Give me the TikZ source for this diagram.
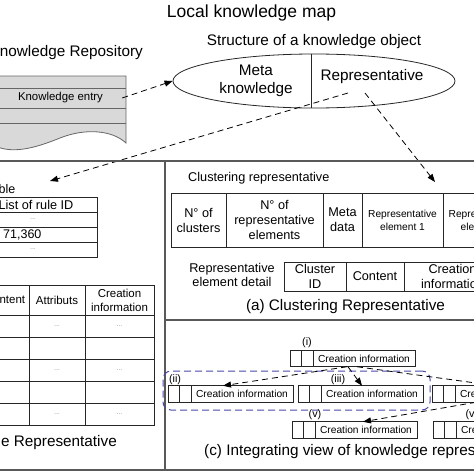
\documentclass[tikz,border=0pt]{standalone}
\usepackage{fontspec}
\setmainfont{Liberation Sans}
\usepackage{tikz}
\usetikzlibrary{positioning,arrows.meta,shapes.geometric}
\definecolor{groupblue}{RGB}{72,72,168}
\tikzset{cell/.style={draw=black!85,line width=1pt,inner sep=0pt,outer sep=0pt,align=center,font=\fontsize{12.7}{15}\selectfont}}
\tikzset{small/.style={cell,font=\fontsize{11.5}{14}\selectfont}}
\tikzset{tiny/.style={draw=black!85,line width=0.9pt,minimum width=11.5pt,minimum height=16.5pt,inner sep=0pt,outer sep=0pt}}
\tikzset{info/.style={draw=black!85,line width=0.9pt,minimum width=102pt,minimum height=16.5pt,inner sep=0pt,outer sep=0pt,font=\fontsize{10.2}{12}\selectfont}}
\tikzset{tag/.style={inner sep=0pt,font=\fontsize{10.8}{12}\selectfont}}
\tikzset{caption/.style={inner sep=0pt,align=center,font=\fontsize{15.3}{18}\selectfont}}
\tikzset{dots/.style={inner sep=0pt,text=black!40,font=\fontsize{7}{9}\selectfont}}
\tikzset{link/.style={dash pattern=on 6pt off 4pt,line width=0.8pt,-{Triangle[length=8pt,width=6pt]}}}
\tikzset{group/.style={draw=groupblue,dash pattern=on 7pt off 4pt,line width=1pt,rounded corners=8pt}}
\tikzset{frame/.style={draw=black!65,line width=1.2pt}}

\begin{document}
\begin{tikzpicture}[x=1pt,y=-1pt]
            \useasboundingbox (0,0) rectangle (474,474);
            \clip (0,0) rectangle (474,474);

            \node[caption,font=\fontsize{17.5}{20}\selectfont] (title) at (251.5,13) {Local knowledge map};

            \node[caption,anchor=east] (repo) at (143,53) {Knowledge Repository};
            \path[fill=black!15,draw=black!60,line width=0.8pt] (-5,76) -- (126,76) -- (126,143)
                .. controls (112,130) and (85,128) .. (60,138)
                .. controls (40,146) and (15,155) .. (-5,146) -- cycle;
            \draw[black!60,line width=0.8pt] (-5,88) -- (126,88) (-5,108) -- (126,108) (-5,123) -- (126,123);
            \node[inner sep=0pt,minimum width=131pt,font=\fontsize{11.4}{13}\selectfont] (entry) at (60.5,98) {Knowledge entry};

            \node[caption] (struct) at (314,42) {Structure of a knowledge object};
            \node[ellipse,draw=black!85,line width=0.8pt,minimum width=282pt,minimum height=54pt] (kobj) at (314,81) {};
            \draw[black!85,line width=0.8pt] ([xshift=-3pt]kobj.north) -- ([xshift=-3pt]kobj.south);
            \node[caption] (meta) at (256,81) {Meta\\knowledge};
            \node[caption] (rep) at (372,77) {Representative};
            \coordinate (repL) at (348,93);
            \coordinate (repR) at (365,93);
            \coordinate (ruleIn) at (50,181);
            \coordinate (clusIn) at (435,182);

            \draw[link] ([xshift=-4pt]entry.east) -- (kobj.west);
            \draw[link] (repL) -- (ruleIn);
            \draw[link] (repR) -- (clusIn);

            \draw[frame] (-5,161) -- (479,161);
            \draw[frame] (165,161) -- (165,470);
            \draw[frame] (165,320) -- (479,320);
            \draw[frame,line width=2pt] (-5,470) -- (479,470);

            \node[inner sep=0pt,anchor=east,font=\fontsize{12.5}{15}\selectfont] (ruletab) at (15.5,189) {Rule table};
            \node[cell,minimum width=122pt,minimum height=15pt] (ruleA) at (36,204.5) {List of rule ID};
            \node[cell,minimum width=122pt,minimum height=15pt] (ruleB) at (36,219.5) {};
            \node[cell,minimum width=122pt,minimum height=15pt] (ruleC) at (36,234.5) {};
            \node[cell,minimum width=122pt,minimum height=15pt] (ruleD) at (36,249.5) {};
            \node[dots] (dotB) at (33,219.5) {...};
            \node[inner sep=0pt,anchor=west,font=\fontsize{12.5}{15}\selectfont] (ruleId) at (3,234.5) {71,360};
            \node[dots] (dotD) at (33,249.5) {...};

            \node[small,minimum width=48pt,minimum height=30pt] (hdContent) at (5,300) {Content};
            \node[small,minimum width=56pt,minimum height=30pt] (hdAttr) at (57,300) {Attributs};
            \node[small,minimum width=69pt,minimum height=30pt] (hdCreat) at (119.5,300) {Creation\\information};
            \node[small,minimum width=48pt,minimum height=22pt] (a1) at (5,326) {};
            \node[small,minimum width=56pt,minimum height=22pt] (b1) at (57,326) {};
            \node[small,minimum width=69pt,minimum height=22pt] (c1) at (119.5,326) {};
            \node[small,minimum width=48pt,minimum height=22pt] (a2) at (5,348) {};
            \node[small,minimum width=56pt,minimum height=22pt] (b2) at (57,348) {};
            \node[small,minimum width=69pt,minimum height=22pt] (c2) at (119.5,348) {};
            \node[small,minimum width=48pt,minimum height=22pt] (a3) at (5,370) {};
            \node[small,minimum width=56pt,minimum height=22pt] (b3) at (57,370) {};
            \node[small,minimum width=69pt,minimum height=22pt] (c3) at (119.5,370) {};
            \node[small,minimum width=48pt,minimum height=22pt] (a4) at (5,392) {};
            \node[small,minimum width=56pt,minimum height=22pt] (b4) at (57,392) {};
            \node[small,minimum width=69pt,minimum height=22pt] (c4) at (119.5,392) {};
            \node[small,minimum width=48pt,minimum height=22pt] (a5) at (5,414) {};
            \node[small,minimum width=56pt,minimum height=22pt] (b5) at (57,414) {};
            \node[small,minimum width=69pt,minimum height=22pt] (c5) at (119.5,414) {};
            \node[dots] at (b1) {...};
            \node[dots] at (c1) {...};
            \node[dots] at (b3) {...};
            \node[dots] at (c3) {...};
            \node[dots] at (b5) {...};
            \node[dots] at (c5) {...};
            \node[caption,anchor=east] (capB) at (117,443) {(b) Rule Representative};

            \node[inner sep=0pt,anchor=west,font=\fontsize{12.7}{15}\selectfont] (clusTitle) at (188,178) {Clustering representative};
            \node[cell,minimum width=55pt,minimum height=54pt] (nClus) at (198.5,220) {N\textdegree{} of\\clusters};
            \node[cell,minimum width=97pt,minimum height=54pt] (nRep) at (274.5,220) {N\textdegree{} of\\representative\\elements};
            \node[cell,minimum width=39pt,minimum height=54pt] (mData) at (342.5,220) {Meta\\data};
            \node[cell,minimum width=81pt,minimum height=54pt,font=\fontsize{10.2}{13}\selectfont] (repOne) at (402.5,220) {Representative\\element 1};
            \node[cell,minimum width=80pt,minimum height=54pt,font=\fontsize{10.2}{13}\selectfont] (repTwo) at (483,220) {Representative\\element 2};

            \node[caption,font=\fontsize{12.7}{14.5}\selectfont] (detail) at (232,275) {Representative\\element detail};
            \node[cell,minimum width=62pt,minimum height=29pt,font=\fontsize{12.7}{14.5}\selectfont] (clusId) at (315,276.5) {Cluster\\ID};
            \node[cell,minimum width=58pt,minimum height=29pt] (content) at (375,276.5) {Content};
            \node[cell,minimum width=97pt,minimum height=29pt,font=\fontsize{12.7}{14.5}\selectfont] (creat) at (452.5,276.5) {Creation\\information};
            \node[caption] (capA) at (345.5,307) {(a) Clustering Representative};

            \node[group,minimum width=267pt,minimum height=39pt] (grp) at (296.5,390.5) {};

            \node[info] (infoI) at (364,358.5) {Creation information};
            \node[tiny,left=0pt of infoI] (tickIb) {};
            \node[tiny,left=0pt of tickIb] (tickIa) {};
            \node[info] (infoII) at (242,394) {Creation information};
            \node[tiny,left=0pt of infoII] (tickIIb) {};
            \node[tiny,left=0pt of tickIIb] (tickIIa) {};
            \node[info] (infoIII) at (372,394) {Creation information};
            \node[tiny,left=0pt of infoIII] (tickIIIb) {};
            \node[tiny,left=0pt of tickIIIb] (tickIIIa) {};
            \node[info] (infoIV) at (506,394) {Creation information};
            \node[tiny,left=0pt of infoIV] (tickIVb) {};
            \node[tiny,left=0pt of tickIVb] (tickIVa) {};
            \node[info] (infoV) at (366,430) {Creation information};
            \node[tiny,left=0pt of infoV] (tickVb) {};
            \node[tiny,left=0pt of tickVb] (tickVa) {};
            \node[info] (infoVI) at (507,430) {Creation information};
            \node[tiny,left=0pt of infoVI] (tickVIb) {};
            \node[tiny,left=0pt of tickVIb] (tickVIa) {};

            \node[tag] (labI) at (307,343) {(i)};
            \node[tag] (labII) at (175,380) {(ii)};
            \node[tag] (labIII) at (338,380) {(iii)};
            \node[tag] (labV) at (315,415) {(v)};
            \node[tag] (labVI) at (473,415) {(vi)};

            \draw[link] ([xshift=-17pt]infoI.south) -- ([xshift=-19pt]infoII.north);
            \draw[link] ([xshift=-16pt]infoI.south) -- ([xshift=-10pt]infoIII.north);
            \draw[link] ([xshift=-7pt]infoI.south) -- ([xshift=-10pt]infoIV.north);
            \draw[link] ([xshift=-30pt]infoIV.south) -- ([xshift=-3pt]infoV.north);

            \node[caption,anchor=west] (capC) at (204,452) {(c) Integrating view of knowledge representation};
        \end{tikzpicture}
\end{document}
